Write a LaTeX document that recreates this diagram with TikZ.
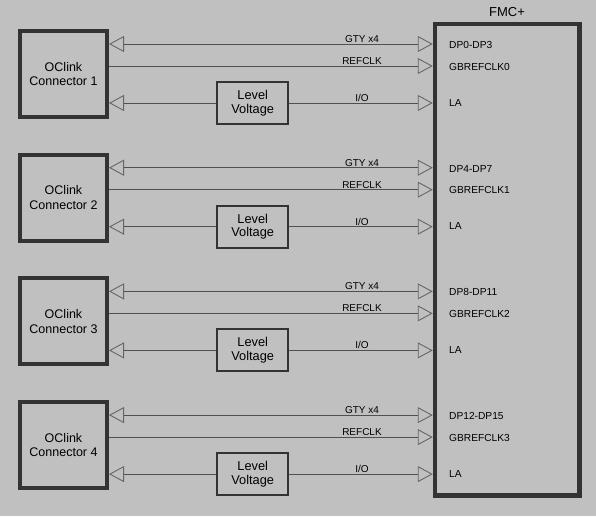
\documentclass[tikz,border=0pt]{standalone}
\usepackage{fontspec}
\setmainfont{Liberation Sans}
\usetikzlibrary{arrows.meta}
\definecolor{bg}{HTML}{C0C0C0}
\definecolor{boxc}{HTML}{333333}
\definecolor{linec}{HTML}{505050}
\definecolor{tipc}{HTML}{666666}
\tikzset{otri/.tip={Triangle[open, length=15pt, width=16pt, color=tipc]}}
\begin{document}
\begin{tikzpicture}[x=1pt,y=-1pt,
 conn/.style={draw=boxc, line width=4pt, minimum width=87pt, minimum height=86pt, inner sep=0pt, align=center, font=\fontsize{12.5}{14.5}\selectfont},
 lvl/.style={draw=boxc, line width=2pt, minimum width=71pt, minimum height=42pt, inner sep=0pt, align=center, font=\fontsize{12.8}{13.5}\selectfont},
 sig/.style={draw=linec, line width=0.9pt},
 lab/.style={font=\fontsize{10}{11}\selectfont, inner sep=1.2pt, anchor=south},
 port/.style={font=\fontsize{10.2}{11}\selectfont, anchor=west, inner sep=0pt}]
\fill[bg] (0,0) rectangle (596,516);
\useasboundingbox (0,0) rectangle (596,516);
\node[draw=boxc, line width=4.5pt, minimum width=144.5pt, minimum height=471.5pt, inner sep=0pt] (f) at (507.25,259.75) {};
\node[font=\fontsize{13}{14}\selectfont, anchor=south, inner sep=1pt] (ft) at (507,18) {FMC+};
\foreach \i in {1,2,3,4}{
  \pgfmathsetmacro\yo{(\i-1)*123.7}
  \pgfmathtruncatemacro\pa{4*(\i-1)}
  \pgfmathtruncatemacro\pb{4*\i-1}
  \pgfmathtruncatemacro\pk{\i-1}
  \node[conn] (c\i) at (63.5,74+\yo) {OClink\\Connector \i};
  \node[lvl] (l\i) at (252.7,103+\yo) {Level\\Voltage};
  \coordinate (g\i) at (432.75,44+\yo);
  \coordinate (r\i) at (432.75,66+\yo);
  \coordinate (a\i) at (432.75,103+\yo);
  \draw[sig, otri-otri] (c\i.east |- g\i) -- (g\i);
  \draw[sig, -otri] (c\i.east |- r\i) -- (r\i);
  \draw[sig, otri-] (c\i.east |- a\i) -- (l\i.west);
  \draw[sig, -otri] (l\i.east) -- (a\i);
  \node[lab] (tg\i) at (362,44+\yo) {GTY x4};
  \node[lab] (tr\i) at (362,66+\yo) {REFCLK};
  \node[lab] (ta\i) at (362,103+\yo) {I/O};
  \node[port] (pg\i) at (449,45+\yo) {DP\pa-DP\pb};
  \node[port] (pr\i) at (449,66.5+\yo) {GBREFCLK\pk};
  \node[port] (pa\i) at (449,102.5+\yo) {LA};
}
\end{tikzpicture}
\end{document}
